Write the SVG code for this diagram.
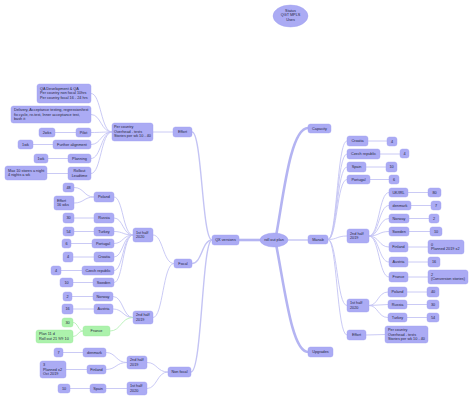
<svg xmlns="http://www.w3.org/2000/svg" width="474" height="401" viewBox="0 0 474 401">
<style>
.n rect{fill:#ababf4;stroke:#9d9df0;stroke-width:0.4}
.n ellipse{fill:#ababf4;stroke:#9d9df0;stroke-width:0.4}
.g rect{fill:#acf2ac;stroke:#98e898;stroke-width:0.4}
text{font-family:"Liberation Sans",Arial,sans-serif;font-size:3.8px;fill:#262640}
.c{text-anchor:middle}
.e path{fill:none;stroke:#c4c4f4;stroke-width:0.9}
.e path.t{stroke:#b4b4f2;stroke-width:2.6}
.e path.m{stroke-width:1.4}
.e path.gr{stroke:#b8f0b8}
</style>
<rect width="474" height="401" fill="#ffffff"/>
<g class="e" id="connectors">
<path class="t" d="M276,236 C283,200 290,128 308,128"/>
<path class="t" d="M276,244 C285,290 292,352 308,352"/>
<path class="t" d="M239,240 L262,240"/>
<path class="m" d="M286,240 L308,240"/>
<path class="m" d="M212,240 C202,240 202,132 192,132"/>
<path class="m" d="M212,240 C202,240 202,263.5 192,263.5"/>
<path class="m" d="M212,240 C202,240 202,372 191,372"/>
<path d="M173,132 L153,132"/>
<path d="M112,132 C101,132 101,93.5 91,93.5"/>
<path d="M112,132 C101,132 101,114.5 91,114.5"/>
<path d="M112,132 C101,132 101,132.5 91,132.5"/>
<path d="M112,132 C101,132 101,144.5 91,144.5"/>
<path d="M112,132 C101,132 101,158.5 91,158.5"/>
<path d="M112,132 C101,132 101,173.5 91,173.5"/>
<path d="M76,132.5 L55,132.5"/>
<path d="M53,144.5 L33,144.5"/>
<path d="M68,158.5 L48,158.5"/>
<path d="M68,173.5 L47,173.5"/>
<path d="M174,263.5 C163,263.5 163,235 153,235"/>
<path d="M174,263.5 C163,263.5 163,317.5 153,317.5"/>
<path d="M133,235 C123,235 123,197 114,197"/>
<path d="M133,235 C123,235 123,218 114,218"/>
<path d="M133,235 C123,235 123,231.5 114,231.5"/>
<path d="M133,235 C123,235 123,243.5 114,243.5"/>
<path d="M133,235 C123,235 123,257 114,257"/>
<path d="M133,235 C123,235 123,270.5 114,270.5"/>
<path d="M133,235 C123,235 123,282.5 114,282.5"/>
<path d="M94,197 C84,197 84,187.5 74,187.5"/>
<path d="M94,197 C84,197 84,203 74,203"/>
<path d="M94,218 L74,218"/>
<path d="M94,231.5 L74,231.5"/>
<path d="M92,243.5 L71,243.5"/>
<path d="M94,257 L73,257"/>
<path d="M82,270.5 L61,270.5"/>
<path d="M93,282.5 L73,282.5"/>
<path d="M133,317.5 C123,317.5 123,296.5 113,296.5"/>
<path d="M133,317.5 C123,317.5 123,309 113,309"/>
<path class="gr" d="M133,317.5 C121,317.5 121,331 110,331"/>
<path d="M93,296.5 L72,296.5"/>
<path d="M94,309 L73,309"/>
<path class="gr" d="M83,331 C78,331 78,322.5 73,322.5"/>
<path class="gr" d="M83,331 C78,331 78,336.5 73,336.5"/>
<path d="M168,372 C157,372 157,362.5 147,362.5"/>
<path d="M168,372 C157,372 157,388.5 147,388.5"/>
<path d="M127,362.5 C116,362.5 116,352.5 106,352.5"/>
<path d="M127,362.5 C116,362.5 116,369.5 106,369.5"/>
<path d="M83,352.5 L63,352.5"/>
<path d="M87,369.5 L66,369.5"/>
<path d="M127,388.5 L106,388.5"/>
<path d="M90,388.5 L70,388.5"/>
<path d="M328,239.5 C337,239.5 337,141 347,141"/>
<path d="M328,239.5 C337,239.5 337,154 347,154"/>
<path d="M328,239.5 C337,239.5 337,167 347,167"/>
<path d="M328,239.5 C337,239.5 337,179.5 347,179.5"/>
<path d="M328,239.5 C337,239.5 337,236 347,236"/>
<path d="M328,239.5 C337,239.5 337,305.5 347,305.5"/>
<path d="M328,239.5 C337,239.5 337,335 347,335"/>
<path d="M368,141 L387,141"/>
<path d="M380,154 L400,154"/>
<path d="M366,167 L386,167"/>
<path d="M370,179.5 L389,179.5"/>
<path d="M369,236 C379,236 379,192.5 389,192.5"/>
<path d="M369,236 C379,236 379,205.5 389,205.5"/>
<path d="M369,236 C379,236 379,218.5 389,218.5"/>
<path d="M369,236 C379,236 379,231.5 389,231.5"/>
<path d="M369,236 C379,236 379,247 389,247"/>
<path d="M369,236 C379,236 379,262 389,262"/>
<path d="M369,236 C379,236 379,277 389,277"/>
<path d="M408,192.5 L428,192.5"/>
<path d="M411,205.5 L431,205.5"/>
<path d="M409,218.5 L429,218.5"/>
<path d="M409,231.5 L430,231.5"/>
<path d="M408,247 L428,247"/>
<path d="M408,262 L428,262"/>
<path d="M408,277 L428,277"/>
<path d="M369,305.5 C378,305.5 378,292 388,292"/>
<path d="M369,305.5 L388,304.5"/>
<path d="M369,305.5 C378,305.5 378,317.5 388,317.5"/>
<path d="M407,292 L427,292"/>
<path d="M407,304.5 L427,304.5"/>
<path d="M407,317.5 L427,317.5"/>
<path d="M366,335 L385,334.5"/>
</g>
<g class="n" id="status"><ellipse cx="290.5" cy="16" rx="17.5" ry="11"/><text class="c" x="290.5" y="11.5">Status</text><text class="c" x="290.5" y="16.3">QGT MPLS</text><text class="c" x="290.5" y="21.1">Uses</text></g>
<g class="n" id="rollout"><ellipse cx="274" cy="240" rx="14" ry="7"/><text class="c" x="274" y="241.3">roll out plan</text></g>
<g class="n" id="qx"><rect x="212" y="235" width="27" height="10" rx="2.5"/><text class="c" x="225.5" y="241.3">QX versions</text></g>
<g class="n" id="capacity"><rect x="308" y="124" width="23" height="9" rx="2.5"/><text class="c" x="319.5" y="129.8">Capacity</text></g>
<g class="n" id="manab"><rect x="308" y="235" width="20" height="9" rx="2.5"/><text class="c" x="318" y="240.8">Manab</text></g>
<g class="n" id="upgrades"><rect x="308" y="347" width="25" height="10" rx="2.5"/><text class="c" x="320.5" y="353.3">Upgrades</text></g>
<g class="n" id="effortL"><rect x="173" y="127" width="19" height="10" rx="2.5"/><text class="c" x="182.5" y="133.3">Effort</text></g>
<g class="n" id="percountryL"><rect x="112" y="123" width="41" height="18" rx="2.5"/><text x="114" y="128.3">Per country</text><text x="114" y="132.8">Overhead - tests</text><text x="114" y="137.3">Stories per wk 10 - 40</text></g>
<g class="n" id="qadev"><rect x="37" y="84" width="54" height="19" rx="2.5"/><text x="40" y="89.5">QA Development &amp; QA</text><text x="40" y="94">Per country non focal 10hrs</text><text x="40" y="98.5">Per country focal 16 - 24 hrs</text></g>
<g class="n" id="delivery"><rect x="11" y="106" width="80" height="17" rx="2.5"/><text x="14" y="111">Delivery, Acceptance testing, regression/test</text><text x="14" y="115.5">fix cycle, re-test, Inner acceptance test,</text><text x="14" y="120">bash it</text></g>
<g class="n" id="pilot"><rect x="76" y="128" width="15" height="9" rx="2.5"/><text class="c" x="83.5" y="133.8">Pilot</text></g>
<g class="n" id="wks2"><rect x="39" y="128" width="16" height="9" rx="2.5"/><text class="c" x="47" y="133.8">2wks</text></g>
<g class="n" id="further"><rect x="53" y="140" width="38" height="9" rx="2.5"/><text class="c" x="72" y="145.8">Further alignment</text></g>
<g class="n" id="wk1a"><rect x="18" y="140" width="15" height="9" rx="2.5"/><text class="c" x="25.5" y="145.8">1wk</text></g>
<g class="n" id="planning"><rect x="68" y="154" width="23" height="9" rx="2.5"/><text class="c" x="79.5" y="159.8">Planning</text></g>
<g class="n" id="wk1b"><rect x="34" y="154" width="14" height="9" rx="2.5"/><text class="c" x="41" y="159.8">1wk</text></g>
<g class="n" id="rolloutlead"><rect x="68" y="167" width="23" height="13" rx="2.5"/><text class="c" x="79.5" y="172.3">Rollout</text><text class="c" x="79.5" y="176.8">Leadtime</text></g>
<g class="n" id="max10"><rect x="5" y="166" width="42" height="14" rx="2.5"/><text x="8" y="171.8">Max 10 stores a night</text><text x="8" y="176.3">4 nights a wk</text></g>
<g class="n" id="focal"><rect x="174" y="259" width="18" height="9" rx="2.5"/><text class="c" x="183" y="264.8">Focal</text></g>
<g class="n" id="h1f"><rect x="133" y="228" width="20" height="14" rx="2.5"/><text x="136" y="233.8">1st half</text><text x="136" y="238.3">2020</text></g>
<g class="n" id="polandL"><rect x="94" y="192" width="20" height="10" rx="2.5"/><text class="c" x="104" y="198.3">Poland</text></g>
<g class="n" id="v48"><rect x="63" y="183" width="11" height="9" rx="2.5"/><text class="c" x="68.5" y="188.8">48</text></g>
<g class="n" id="effort16"><rect x="54" y="196" width="20" height="14" rx="2.5"/><text x="57" y="201.8">Effort</text><text x="57" y="206.3">16 wks</text></g>
<g class="n" id="russiaL"><rect x="94" y="213" width="20" height="10" rx="2.5"/><text class="c" x="104" y="219.3">Russia</text></g>
<g class="n" id="v30L"><rect x="63" y="213" width="11" height="10" rx="2.5"/><text class="c" x="68.5" y="219.3">30</text></g>
<g class="n" id="turkeyL"><rect x="94" y="227" width="20" height="9" rx="2.5"/><text class="c" x="104" y="232.8">Turkey</text></g>
<g class="n" id="v54L"><rect x="63" y="227" width="11" height="9" rx="2.5"/><text class="c" x="68.5" y="232.8">54</text></g>
<g class="n" id="portugalL"><rect x="92" y="239" width="22" height="9" rx="2.5"/><text class="c" x="103" y="244.8">Portugal</text></g>
<g class="n" id="v6L"><rect x="62" y="239" width="9" height="9" rx="2.5"/><text class="c" x="66.5" y="244.8">6</text></g>
<g class="n" id="croatiaL"><rect x="94" y="252" width="20" height="10" rx="2.5"/><text class="c" x="104" y="258.3">Croatia</text></g>
<g class="n" id="v4La"><rect x="63" y="252" width="10" height="10" rx="2.5"/><text class="c" x="68" y="258.3">4</text></g>
<g class="n" id="czechL"><rect x="82" y="266" width="32" height="9" rx="2.5"/><text class="c" x="98" y="271.8">Czech republic</text></g>
<g class="n" id="v4Lb"><rect x="51" y="266" width="10" height="9" rx="2.5"/><text class="c" x="56" y="271.8">4</text></g>
<g class="n" id="swedenL"><rect x="93" y="278" width="21" height="9" rx="2.5"/><text class="c" x="103.5" y="283.8">Sweden</text></g>
<g class="n" id="v10La"><rect x="60" y="278" width="13" height="9" rx="2.5"/><text class="c" x="66.5" y="283.8">10</text></g>
<g class="n" id="h2f"><rect x="133" y="311" width="20" height="13" rx="2.5"/><text x="136" y="316.3">2nd half</text><text x="136" y="320.8">2019</text></g>
<g class="n" id="norwayL"><rect x="93" y="292" width="20" height="9" rx="2.5"/><text class="c" x="103" y="297.8">Norway</text></g>
<g class="n" id="v2L"><rect x="63" y="292" width="9" height="9" rx="2.5"/><text class="c" x="67.5" y="297.8">2</text></g>
<g class="n" id="austriaL"><rect x="94" y="304" width="19" height="10" rx="2.5"/><text class="c" x="103.5" y="310.3">Austria</text></g>
<g class="n" id="v16L"><rect x="62" y="304" width="11" height="10" rx="2.5"/><text class="c" x="67.5" y="310.3">16</text></g>
<g class="g" id="franceL"><rect x="83" y="326" width="27" height="10" rx="2.5"/><text class="c" x="96.5" y="332.3">France</text></g>
<g class="g" id="v30g"><rect x="62" y="318" width="11" height="9" rx="2.5"/><text class="c" x="67.5" y="323.8">30</text></g>
<g class="g" id="plan11"><rect x="36" y="330" width="37" height="13" rx="2.5"/><text x="39" y="335.3">Plan 11 d</text><text x="39" y="339.8">Roll out 21 9/9 10</text></g>
<g class="n" id="nonfocal"><rect x="168" y="367" width="23" height="10" rx="2.5"/><text class="c" x="179.5" y="373.3">Non focal</text></g>
<g class="n" id="h2nf"><rect x="127" y="356" width="20" height="13" rx="2.5"/><text x="130" y="361.3">2nd half</text><text x="130" y="365.8">2019</text></g>
<g class="n" id="h1nf"><rect x="127" y="382" width="20" height="13" rx="2.5"/><text x="130" y="387.3">1st half</text><text x="130" y="391.8">2020</text></g>
<g class="n" id="denmarkL"><rect x="83" y="348" width="23" height="9" rx="2.5"/><text class="c" x="94.5" y="353.8">denmark</text></g>
<g class="n" id="v7L"><rect x="54" y="348" width="9" height="9" rx="2.5"/><text class="c" x="58.5" y="353.8">7</text></g>
<g class="n" id="finlandL"><rect x="87" y="365" width="19" height="9" rx="2.5"/><text class="c" x="96.5" y="370.8">Finland</text></g>
<g class="n" id="v3planned"><rect x="40" y="361" width="26" height="17" rx="2.5"/><text x="43" y="366">3</text><text x="43" y="370.5">Planned x2</text><text x="43" y="375">Oct 2019</text></g>
<g class="n" id="spainL"><rect x="90" y="384" width="16" height="9" rx="2.5"/><text class="c" x="98" y="389.8">Spain</text></g>
<g class="n" id="v10Lb"><rect x="58" y="384" width="12" height="9" rx="2.5"/><text class="c" x="64" y="389.8">10</text></g>
<g class="n" id="croatiaR"><rect x="347" y="136" width="21" height="10" rx="2.5"/><text class="c" x="357.5" y="142.3">Croatia</text></g>
<g class="n" id="v4Ra"><rect x="387" y="137" width="10" height="9" rx="2.5"/><text class="c" x="392" y="142.8">4</text></g>
<g class="n" id="czechR"><rect x="347" y="149" width="33" height="10" rx="2.5"/><text class="c" x="363.5" y="155.3">Czech republic</text></g>
<g class="n" id="v4Rb"><rect x="400" y="149" width="9" height="9" rx="2.5"/><text class="c" x="404.5" y="154.8">4</text></g>
<g class="n" id="spainR"><rect x="347" y="162" width="19" height="10" rx="2.5"/><text class="c" x="356.5" y="168.3">Spain</text></g>
<g class="n" id="v10Ra"><rect x="386" y="162" width="11" height="10" rx="2.5"/><text class="c" x="391.5" y="168.3">10</text></g>
<g class="n" id="portugalR"><rect x="347" y="175" width="23" height="9" rx="2.5"/><text class="c" x="358.5" y="180.8">Portugal</text></g>
<g class="n" id="v6R"><rect x="389" y="175" width="10" height="9" rx="2.5"/><text class="c" x="394" y="180.8">6</text></g>
<g class="n" id="h2R"><rect x="347" y="229" width="22" height="14" rx="2.5"/><text x="350" y="234.8">2nd half</text><text x="350" y="239.3">2019</text></g>
<g class="n" id="ukirl"><rect x="389" y="188" width="19" height="9" rx="2.5"/><text class="c" x="398.5" y="193.8">UK/IRL</text></g>
<g class="n" id="v80"><rect x="428" y="188" width="13" height="9" rx="2.5"/><text class="c" x="434.5" y="193.8">80</text></g>
<g class="n" id="denmarkR"><rect x="389" y="201" width="22" height="9" rx="2.5"/><text class="c" x="400" y="206.8">denmark</text></g>
<g class="n" id="v7R"><rect x="431" y="201" width="10" height="9" rx="2.5"/><text class="c" x="436" y="206.8">7</text></g>
<g class="n" id="norwayR"><rect x="389" y="214" width="20" height="9" rx="2.5"/><text class="c" x="399" y="219.8">Norway</text></g>
<g class="n" id="v2R"><rect x="429" y="214" width="10" height="9" rx="2.5"/><text class="c" x="434" y="219.8">2</text></g>
<g class="n" id="swedenR"><rect x="389" y="227" width="20" height="9" rx="2.5"/><text class="c" x="399" y="232.8">Sweden</text></g>
<g class="n" id="v10Rb"><rect x="430" y="227" width="12" height="9" rx="2.5"/><text class="c" x="436" y="232.8">10</text></g>
<g class="n" id="finlandR"><rect x="389" y="242" width="19" height="10" rx="2.5"/><text class="c" x="398.5" y="248.3">Finland</text></g>
<g class="n" id="v0planned"><rect x="428" y="240" width="36" height="14" rx="2.5"/><text x="431" y="245.8">0</text><text x="431" y="250.3">Planned 2019 x2</text></g>
<g class="n" id="austriaR"><rect x="389" y="257" width="19" height="10" rx="2.5"/><text class="c" x="398.5" y="263.3">Austria</text></g>
<g class="n" id="v16R"><rect x="428" y="257" width="12" height="10" rx="2.5"/><text class="c" x="434" y="263.3">16</text></g>
<g class="n" id="franceR"><rect x="389" y="272" width="19" height="10" rx="2.5"/><text class="c" x="398.5" y="278.3">France</text></g>
<g class="n" id="v2conv"><rect x="428" y="270" width="40" height="14" rx="2.5"/><text x="431" y="275.8">2</text><text x="431" y="280.3">(Conversion stories)</text></g>
<g class="n" id="h1R"><rect x="347" y="299" width="22" height="13" rx="2.5"/><text x="350" y="304.3">1st half</text><text x="350" y="308.8">2020</text></g>
<g class="n" id="polandR"><rect x="388" y="287" width="19" height="10" rx="2.5"/><text class="c" x="397.5" y="293.3">Poland</text></g>
<g class="n" id="v40"><rect x="427" y="287" width="12" height="10" rx="2.5"/><text class="c" x="433" y="293.3">40</text></g>
<g class="n" id="russiaR"><rect x="388" y="300" width="19" height="9" rx="2.5"/><text class="c" x="397.5" y="305.8">Russia</text></g>
<g class="n" id="v30R"><rect x="427" y="300" width="12" height="9" rx="2.5"/><text class="c" x="433" y="305.8">30</text></g>
<g class="n" id="turkeyR"><rect x="388" y="313" width="19" height="9" rx="2.5"/><text class="c" x="397.5" y="318.8">Turkey</text></g>
<g class="n" id="v54R"><rect x="427" y="313" width="12" height="9" rx="2.5"/><text class="c" x="433" y="318.8">54</text></g>
<g class="n" id="effortR"><rect x="347" y="330" width="19" height="10" rx="2.5"/><text class="c" x="356.5" y="336.3">Effort</text></g>
<g class="n" id="percountryR"><rect x="385" y="326" width="43" height="17" rx="2.5"/><text x="388" y="331">Per country</text><text x="388" y="335.5">Overhead - tests</text><text x="388" y="340">Stories per wk 10 - 40</text></g>
</svg>
